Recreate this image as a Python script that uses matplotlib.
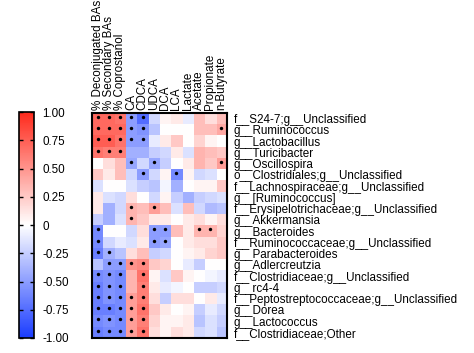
import numpy as np
import matplotlib
matplotlib.use('Agg')
import matplotlib.pyplot as plt
from matplotlib.colors import LinearSegmentedColormap

plt.rcParams['font.family'] = ['Liberation Sans', 'DejaVu Sans']

columns = ['% Deconjugated BAs', '% Secondary BAs', '% Coprostanol', 'CA',
           'CDCA', 'UDCA', 'DCA', 'LCA', 'Lactate', 'Acetate',
           'Propionate', 'n-Butyrate']

taxa = ['f__S24-7;g__Unclassified',
        'g__Ruminococcus',
        'g__Lactobacillus',
        'g__Turicibacter',
        'g__Oscillospira',
        'o__Clostridiales;g__Unclassified',
        'f__Lachnospiraceae;g__Unclassified',
        'g__[Ruminococcus]',
        'f__Erysipelotrichaceae;g__Unclassified',
        'g__Akkermansia',
        'g__Bacteroides',
        'f__Ruminococcaceae;g__Unclassified',
        'g__Parabacteroides',
        'g__Adlercreutzia',
        'f__Clostridiaceae;g__Unclassified',
        'g__rc4-4',
        'f__Peptostreptococcaceae;g__Unclassified',
        'g__Dorea',
        'g__Lactococcus',
        'f__Clostridiaceae;Other']

# spearman rho, one row per taxon
rho = [
    [0.70, 0.70, 0.65, -0.50, -0.75, -0.20, 0.05, 0.10, -0.10, 0.30, 0.15, 0.30],
    [0.70, 0.70, 0.70, -0.50, -0.55, -0.30, 0.00, 0.00, 0.00, 0.30, 0.30, 0.40],
    [0.75, 0.75, 0.65, -0.50, -0.50, -0.10, 0.10, 0.25, 0.00, 0.20, 0.05, 0.00],
    [0.65, 0.60, 0.60, -0.40, -0.40, -0.25, -0.20, 0.10, -0.15, 0.35, 0.30, 0.25],
    [0.00, 0.15, 0.30, -0.45, -0.20, -0.45, -0.25, 0.00, 0.10, 0.35, 0.25, 0.45],
    [0.25, 0.10, 0.30, -0.20, -0.50, -0.20, 0.05, -0.60, 0.05, -0.20, -0.15, 0.00],
    [-0.15, 0.00, 0.00, -0.15, -0.25, -0.30, -0.05, -0.40, 0.00, 0.05, 0.05, 0.25],
    [0.10, -0.15, -0.20, 0.15, 0.00, -0.20, 0.05, -0.25, -0.40, -0.25, -0.20, -0.15],
    [0.10, -0.40, -0.20, 0.35, 0.30, 0.45, 0.30, -0.15, 0.30, -0.20, -0.35, -0.30],
    [-0.25, -0.40, -0.15, 0.35, 0.25, 0.10, 0.10, 0.00, 0.10, 0.15, 0.05, 0.15],
    [-0.60, 0.00, 0.00, -0.20, 0.15, -0.50, -0.50, 0.30, 0.10, 0.35, 0.35, 0.20],
    [-0.60, -0.20, -0.10, -0.15, 0.10, -0.50, -0.45, 0.00, 0.10, 0.15, 0.15, 0.25],
    [-0.65, -0.40, -0.30, 0.15, 0.30, -0.25, -0.20, 0.00, 0.05, 0.10, 0.20, 0.25],
    [-0.30, -0.50, -0.50, 0.50, 0.55, 0.25, 0.20, 0.00, -0.10, -0.25, 0.00, 0.00],
    [-0.60, -0.55, -0.60, 0.35, 0.65, 0.05, -0.15, 0.25, 0.05, 0.00, -0.05, -0.10],
    [-0.65, -0.55, -0.60, 0.35, 0.60, 0.10, -0.10, -0.05, 0.00, -0.25, -0.25, -0.20],
    [-0.65, -0.55, -0.60, 0.45, 0.60, 0.15, -0.25, 0.15, 0.15, 0.00, 0.10, -0.10],
    [-0.65, -0.65, -0.60, 0.45, 0.65, 0.25, 0.10, 0.00, 0.05, -0.25, -0.10, -0.20],
    [-0.60, -0.55, -0.60, 0.45, 0.60, 0.20, 0.05, 0.05, 0.10, -0.30, -0.15, -0.25],
    [-0.65, -0.60, -0.60, 0.45, 0.65, 0.15, 0.05, 0.15, 0.10, -0.20, -0.15, -0.30],
]

# columns marked significant in each row
signif = [
    [0, 1, 2, 3, 4],
    [0, 1, 2, 3, 4, 11],
    [0, 1, 2, 3, 4],
    [0, 1, 2],
    [3, 5, 11],
    [4, 7],
    [],
    [],
    [3, 5],
    [3],
    [0, 5, 6, 9, 10],
    [0, 5, 6],
    [0, 1],
    [1, 2, 3, 4],
    [0, 1, 2, 4],
    [0, 1, 2, 4],
    [0, 1, 2, 3, 4],
    [0, 1, 2, 3, 4],
    [0, 1, 2, 3, 4],
    [0, 1, 2, 3, 4],
]

cbar_ticks = [1.0, 0.75, 0.5, 0.25, 0, -0.25, -0.5, -0.75, -1.0]
cbar_labels = ['1.00', '0.75', '0.50', '0.25', '0', '-0.25', '-0.50', '-0.75', '-1.00']

cmap = LinearSegmentedColormap.from_list(
    'rwb', ['#1a3cff', '#ffffff', '#ff2a1c'])

fig = plt.figure(figsize=(4.74, 3.53), dpi=100)
ax = fig.add_axes([92 / 474, 15 / 353, 135 / 474, 225 / 353])
cax = fig.add_axes([19 / 474, 15 / 353, 15 / 474, 226 / 353])

data = np.array(rho)
im = ax.imshow(data, cmap=cmap, vmin=-1, vmax=1, aspect='auto',
               interpolation='nearest')

for i, cols in enumerate(signif):
    for j in cols:
        ax.scatter(j, i - 0.15, s=6, color='black', marker='o', linewidths=0)

ax.set_xticks(range(len(columns)))
ax.set_xticklabels(columns, rotation=90, fontsize=8.4)
ax.xaxis.tick_top()
ax.set_yticks(range(len(taxa)))
ax.set_yticklabels(taxa, fontsize=8.4)
ax.yaxis.tick_right()
ax.tick_params(length=0, pad=2)
ax.tick_params(axis='y', pad=5)
for sp in ax.spines.values():
    sp.set_linewidth(1.5)

cb = fig.colorbar(im, cax=cax)
cb.set_ticks(cbar_ticks)
cb.set_ticklabels(cbar_labels)
cax.tick_params(labelsize=8.4, direction='in', length=3, width=1,
                left=True, right=True, pad=6)
cb.outline.set_linewidth(1.2)

plt.savefig('out.png', dpi=100)
